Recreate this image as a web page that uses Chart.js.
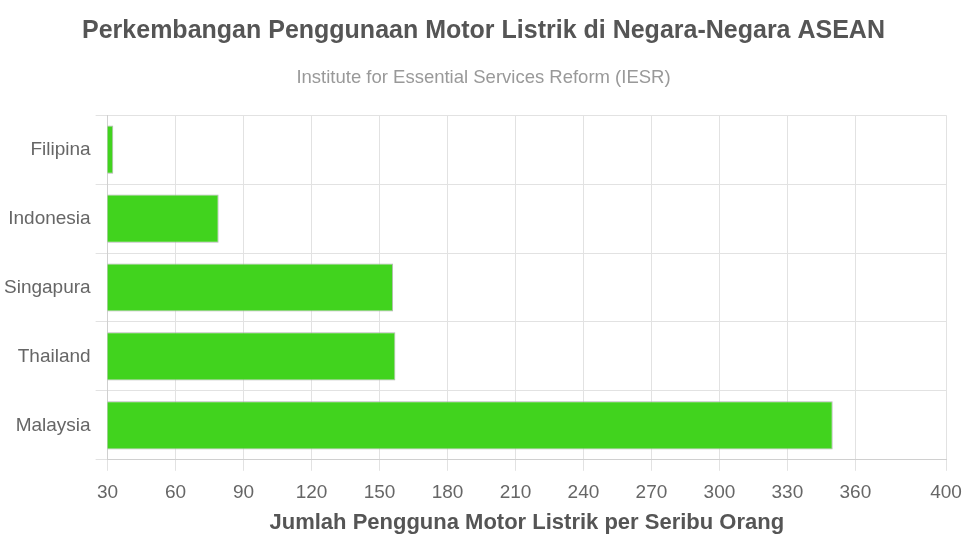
<!DOCTYPE html>
<html lang="en">
<head>
    <meta charset="UTF-8">
    <title>Motor Listrik ASEAN</title>
    <script src="https://cdn.jsdelivr.net/npm/chart.js@4.4.0/dist/chart.umd.min.js"></script>
    <style>
        body { margin: 0; background: #fff; }
        #wrap { width: 968px; height: 543px; }
    </style>
</head>
<body>
    <div id="wrap"><canvas id="myChart" width="968" height="543"></canvas></div>

<script>
// data
var countries = ['Filipina', 'Indonesia', 'Singapura', 'Thailand', 'Malaysia'];
var usersPerThousand = [32.5, 79, 156, 157, 350];
var xTicks = [30, 60, 90, 120, 150, 180, 210, 240, 270, 300, 330, 360, 400];

var fontFam = "'Liberation Sans', Arial, Helvetica, sans-serif";

var ctx = document.getElementById('myChart').getContext('2d');
var myChart = new Chart(ctx, {
    type: 'bar',
    data: {
        labels: countries,
        datasets: [{
            label: 'Jumlah Pengguna',
            data: usersPerThousand,
            backgroundColor: '#41d31e',
            borderColor: '#b5b5b5',
            borderWidth: 1,
            borderSkipped: false,
            barPercentage: 0.7,
            categoryPercentage: 1
        }]
    },
    options: {
        indexAxis: 'y',
        responsive: false,
        animation: false,
        layout: { padding: { top: 16, right: 0, left: -1, bottom: 7 } },
        plugins: {
            legend: { display: false },
            tooltip: { enabled: false },
            title: {
                display: true,
                text: 'Perkembangan Penggunaan Motor Listrik di Negara-Negara ASEAN',
                color: '#555',
                font: { family: fontFam, size: 25, weight: 'bold' },
                padding: { top: 0, bottom: 21 }
            },
            subtitle: {
                display: true,
                text: 'Institute for Essential Services Reform (IESR)',
                color: '#999',
                font: { family: fontFam, size: 18.5 },
                padding: { top: 0, bottom: 26 }
            }
        },
        scales: {
            x: {
                min: 30,
                max: 400,
                afterBuildTicks: function (axis) {
                    axis.ticks = xTicks.map(function (v) { return { value: v }; });
                },
                afterFit: function (axis) {
                    axis.paddingRight = 22;
                },
                grid: { color: '#e2e2e2', tickLength: 11 },
                border: { color: '#d0d0d0' },
                ticks: {
                    color: '#666',
                    padding: 11,
                    autoSkip: false,
                    maxRotation: 0,
                    font: { family: fontFam, size: 19 }
                },
                title: {
                    display: true,
                    text: 'Jumlah Pengguna Motor Listrik per Seribu Orang',
                    color: '#555',
                    font: { family: fontFam, size: 22, weight: 'bold' },
                    padding: { top: -6, bottom: 0 }
                }
            },
            y: {
                grid: { color: '#e2e2e2', tickLength: 12 },
                border: { color: '#d0d0d0' },
                ticks: {
                    color: '#666',
                    padding: 5,
                    font: { family: fontFam, size: 19 }
                }
            }
        }
    }
});
</script>
</body>
</html>
